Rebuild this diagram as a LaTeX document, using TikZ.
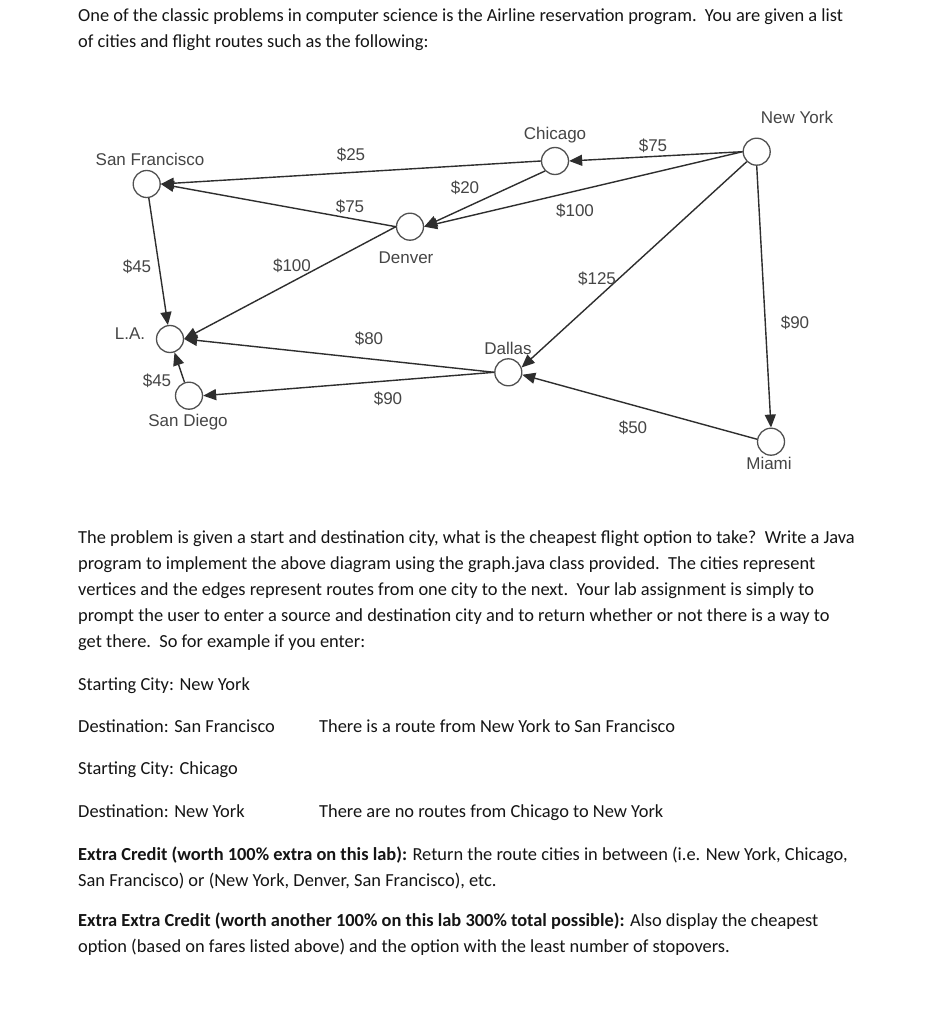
\documentclass[tikz,border=0pt]{standalone}
\usepackage{fontspec}
\setmainfont{Carlito}
\newfontfamily\graphfont{Liberation Sans}
\usetikzlibrary{arrows.meta}
\definecolor{edgecol}{HTML}{2E2E2E}
\definecolor{labcol}{HTML}{454545}
\definecolor{circcol}{HTML}{505050}
\definecolor{txtcol}{HTML}{151515}
\begin{document}
\begin{tikzpicture}[x=1pt,y=-1pt,
  city/.style={circle,draw=circcol,line width=1.3pt,fill=white,minimum size=27pt,inner sep=0pt},
  route/.style={draw=edgecol,line width=1.4pt,-{Triangle[length=13pt,width=11pt]}},
  glabel/.style={font=\graphfont\fontsize{17}{19}\selectfont,text=labcol,inner sep=0pt},
  body/.style={font=\fontsize{18.4}{22}\selectfont,text=txtcol,anchor=base west,inner sep=0pt},
]
\useasboundingbox[fill=white] (0,0) rectangle (925,1024);

% intro text
\node[body] (t1) at (78,22) {One of the classic problems in computer science is the Airline reservation program.\ \ You are given a list};
\node[body] (t2) at (78,47.5) {of cities and flight routes such as the following:};

% cities
\node[city] (sf)  at (146.7,184) {};
\node[city] (chi) at (555,161) {};
\node[city] (den) at (410,226.7) {};
\node[city] (ny)  at (756.7,151.7) {};
\node[city] (la)  at (170,339) {};
\node[city] (sd)  at (189,395.7) {};
\node[city] (dal) at (508.3,372.3) {};
\node[city] (mia) at (771,441.7) {};

% routes
\draw[route] (chi.west) -- (sf.east);
\draw[route] (den.west) -- (sf.east);
\draw[route] (sf) -- (la);
\draw[route] (den.west) -- (la.east);
\draw[route] (dal.west) -- (la.east);
\draw[route] (dal.west) -- (sd.east);
\draw[route] (sd) -- (la);
\draw[route] (chi.south west) -- (den.east);
\draw[route] (ny.west) -- (den.east);
\draw[route] (ny.west) -- (chi.east);
\draw[route] (ny.south west) -- (dal.20);
\draw[route] (mia.170) -- (dal.-10);
\draw[route] (ny.south) -- (mia.north);

% city names
\node[glabel] (lsf)  at (150,159) {San Francisco};
\node[glabel] (lchi) at (555,135) {Chicago};
\node[glabel] (lny)  at (797,117) {New York};
\node[glabel] (lden) at (406,258) {Denver};
\node[glabel] (lla)  at (130,334) {L.A.};
\node[glabel] (ldal) at (508,348) {Dallas};
\node[glabel] (lsd)  at (188,422) {San Diego};
\node[glabel] (lmia) at (769,463) {Miami};

% fares
\node[glabel] (p1)  at (351,155) {\$25};
\node[glabel] (p2)  at (350,207) {\$75};
\node[glabel] (p3)  at (465,188) {\$20};
\node[glabel] (p4)  at (653,146) {\$75};
\node[glabel] (p5)  at (575,211) {\$100};
\node[glabel] (p6)  at (137,267) {\$45};
\node[glabel] (p7)  at (292,266) {\$100};
\node[glabel] (p8)  at (597,279) {\$125};
\node[glabel] (p9)  at (795,323) {\$90};
\node[glabel] (p10) at (369,339) {\$80};
\node[glabel] (p11) at (157,381) {\$45};
\node[glabel] (p12) at (388,399) {\$90};
\node[glabel] (p13) at (633,428) {\$50};

% problem text
\node[body] (u1) at (78,543) {The problem is given a start and destination city, what is the cheapest flight option to take?\ \ Write a Java};
\node[body] (u2) at (78,569) {program to implement the above diagram using the graph.java class provided.\ \ The cities represent};
\node[body] (u3) at (78,595) {vertices and the edges represent routes from one city to the next.\ \ Your lab assignment is simply to};
\node[body] (u4) at (78,621) {prompt the user to enter a source and destination city and to return whether or not there is a way to};
\node[body] (u5) at (78,647) {get there.\ \ So for example if you enter:};

\node[body] (s1) at (78,690) {Starting City: New York};
\node[body] (d1) at (78,732) {Destination: San Francisco};
\node[body] (r1) at (319,732) {There is a route from New York to San Francisco};
\node[body] (s2) at (78,774) {Starting City: Chicago};
\node[body] (d2) at (78,817) {Destination: New York};
\node[body] (r2) at (319,817) {There are no routes from Chicago to New York};

\node[body] (e1) at (78,860) {\textbf{Extra Credit (worth 100\% extra on this lab):} Return the route cities in between (i.e. New York, Chicago,};
\node[body] (e2) at (78,886) {San Francisco) or (New York, Denver, San Francisco), etc.};
\node[body] (f1) at (78,926) {\textbf{Extra Extra Credit (worth another 100\% on this lab 300\% total possible):} Also display the cheapest};
\node[body] (f2) at (78,952) {option (based on fares listed above) and the option with the least number of stopovers.};
\end{tikzpicture}
\end{document}
